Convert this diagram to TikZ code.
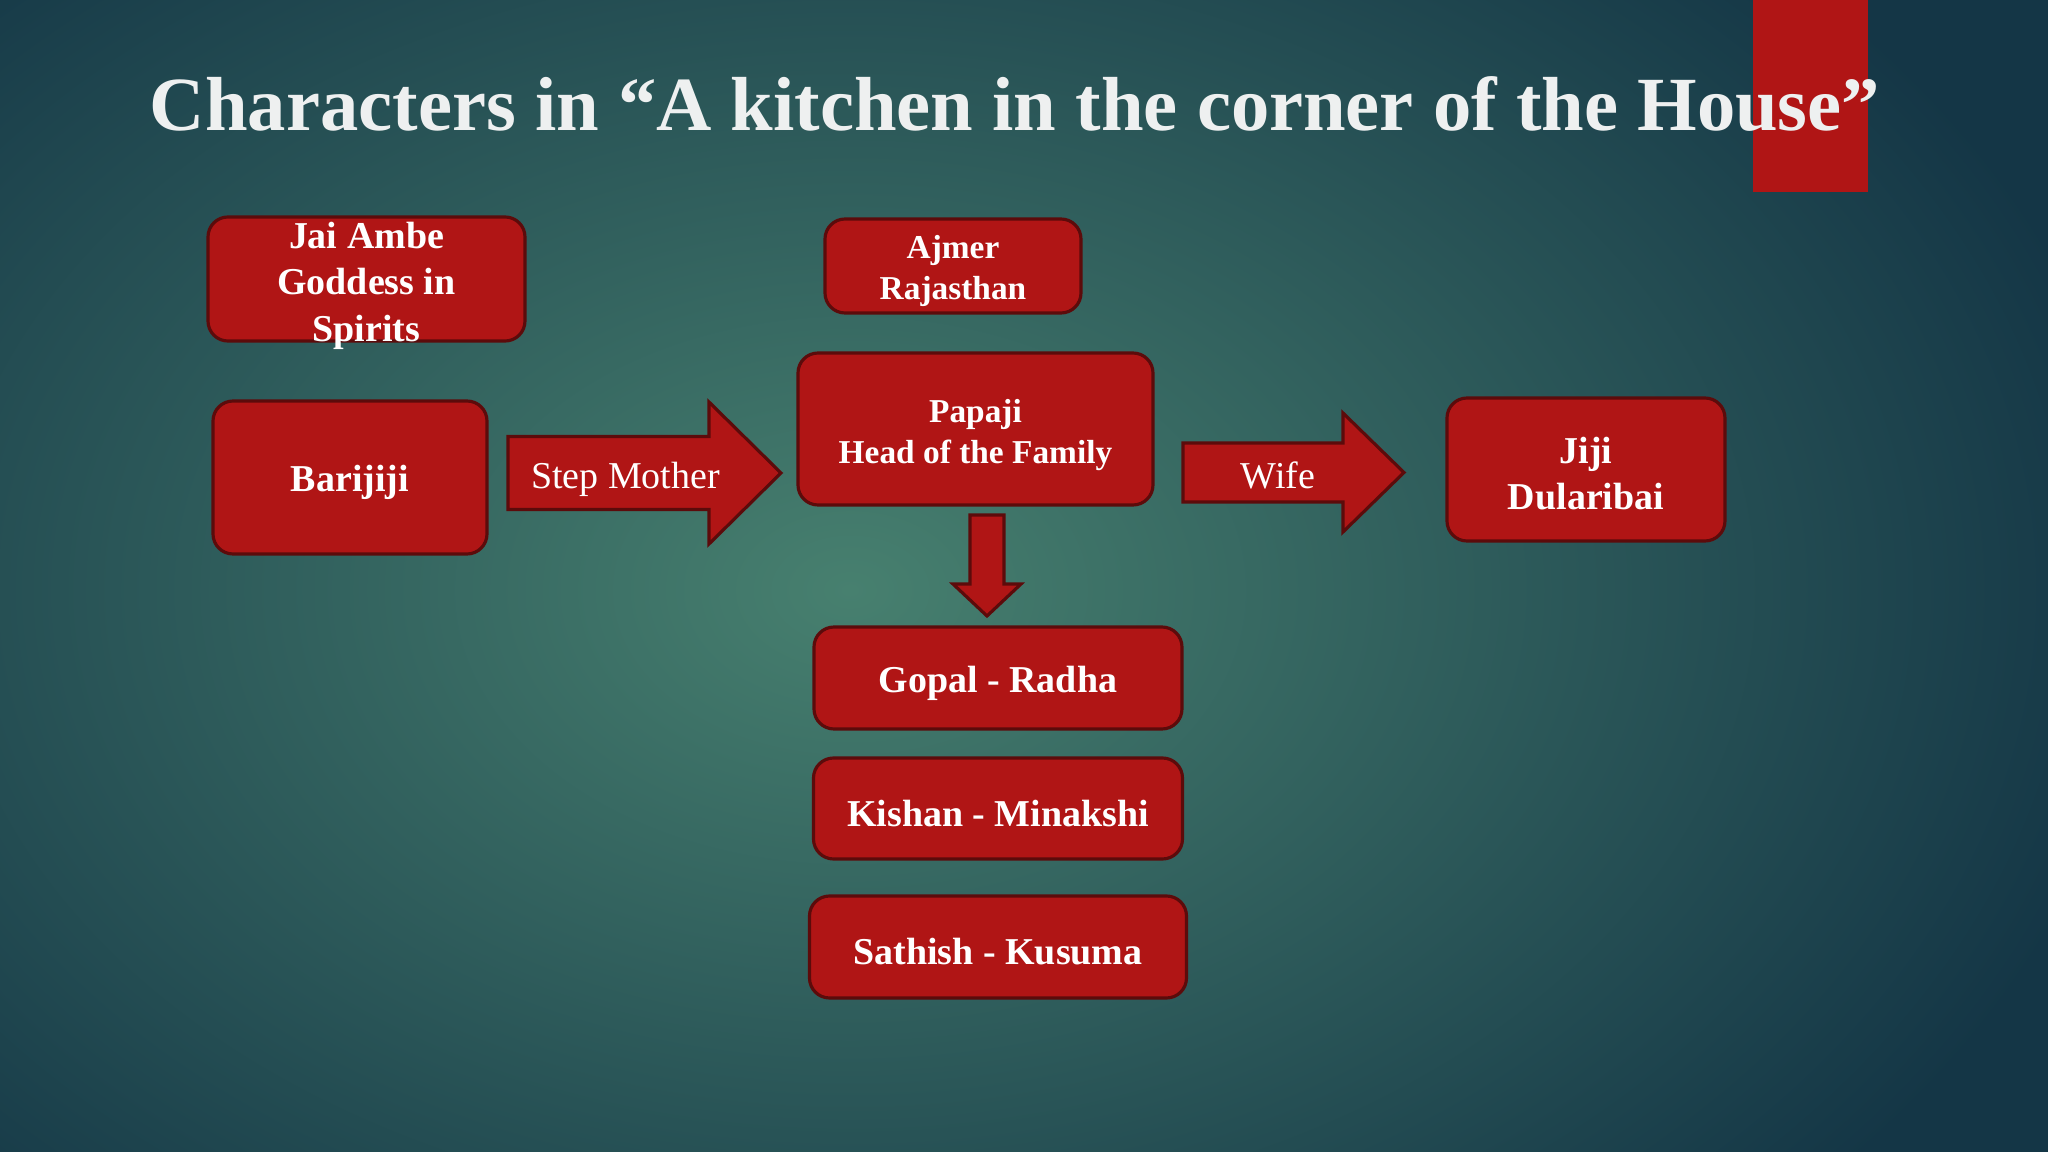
\documentclass[tikz,border=0pt]{standalone}
\usepackage{fontspec}
\setmainfont{Liberation Serif}
\usetikzlibrary{positioning,calc}

\definecolor{boxred}{HTML}{B01515}
\definecolor{boxedge}{HTML}{5C0B0B}
\definecolor{bgdark}{HTML}{143646}
\definecolor{bglight}{HTML}{47806F}
\definecolor{titlewhite}{HTML}{EEF0F0}

\newcommand{\tstrut}[1][0.96]{\rule{0pt}{#1em}}

\tikzstyle{block} = [rectangle, draw=boxedge, fill=boxred, line width=0.9pt,
    rounded corners=0.2cm, text=white, align=center, inner sep=0pt, outer sep=0pt,
    font=\bfseries\fontsize{10.8}{13.2}\selectfont,
    execute at begin node={\tstrut}]
\tikzstyle{smalltext} = [font=\bfseries\fontsize{9.5}{11.7}\selectfont]
\tikzstyle{arrowbox} = [draw=boxedge, fill=boxred, line width=0.9pt, line join=miter]
\tikzstyle{arrowtext} = [text=white, font=\fontsize{10.8}{13}\selectfont, yshift=-0.06cm]

% #1 tail, #2 tip, #3 half shaft, #4 half head, #5 head length
\newcommand{\blockarrow}[5]{%
    \coordinate (hb) at ($(#2)!#5!(#1)$);
    \path [arrowbox] ($(#1)!#3!90:(#2)$) -- ($(hb)!#3!-90:(#1)$) -- ($(hb)!#4!-90:(#1)$)
        -- (#2) -- ($(hb)!#4!90:(#1)$) -- ($(hb)!#3!90:(#1)$) -- ($(#1)!#3!-90:(#2)$) -- cycle;
}

\begin{document}
\begin{tikzpicture}
    \useasboundingbox (0,0) rectangle (20.48,-11.52);
    \fill [bgdark] (0,0) rectangle (20.48,-11.52);
    \begin{scope}
        \clip (0,0) rectangle (20.48,-11.52);
        \shade [inner color=bglight, outer color=bgdark] (8.5,-5.9) ellipse (13 and 9);
    \end{scope}
    \fill [boxred] (17.53,0) rectangle (18.68,-1.92);

    \node [anchor=base, text=titlewhite, font=\bfseries\fontsize{21.8}{26}\selectfont] (title) at (10.15,-1.31)
        {Characters in “A kitchen in the corner of the House”};

    \node [block, minimum width=3.17cm, minimum height=1.24cm, text height=35.3pt, text depth=-0.6pt] (jai) at (3.665,-2.79) {Jai Ambe\\Goddess in\\Spirits};
    \node [block, smalltext, minimum width=2.56cm, minimum height=0.94cm] (ajmer) at (9.53,-2.66) {\tstrut[1.0]Ajmer\\Rajasthan};
    \node [block, smalltext, minimum width=3.55cm, minimum height=1.52cm] (papa) at (9.755,-4.29) {\tstrut[1.07]Papaji\\Head of the Family};
    \node [block, minimum width=2.74cm, minimum height=1.53cm] (bari) at (3.50,-4.775) {Barijiji};
    \node [block, minimum width=2.78cm, minimum height=1.43cm] (jiji) at (15.86,-4.695) {\tstrut[0.9]Jiji\\Dularibai};
    \node [block, minimum width=3.68cm, minimum height=1.02cm] (gopal) at (9.98,-6.78) {Gopal - Radha};
    \node [block, minimum width=3.69cm, minimum height=1.01cm, below=0.29cm of gopal] (kishan) {Kishan - Minakshi};
    \node [block, minimum width=3.77cm, minimum height=1.02cm, below=0.37cm of kishan] (sathish) {Sathish - Kusuma};

    \coordinate (smtail) at ($(bari.east)+(0.21,0.045)$);
    \coordinate (smtip) at ($(smtail -| papa.west)+(-0.17,0)$);
    \blockarrow{smtail}{smtip}{0.365cm}{0.71cm}{0.72cm}
    \node [arrowtext] (smlabel) at ($(smtail)!0.43!(smtip)$) {Step Mother};

    \coordinate (wftail) at ($(jiji.west -| papa.east)+(0.30,-0.03)$);
    \coordinate (wftip) at ($(wftail -| jiji.west)+(-0.43,0)$);
    \blockarrow{wftail}{wftip}{0.295cm}{0.595cm}{0.61cm}
    \node [arrowtext, yshift=0.03cm] (wflabel) at ($(wftail)!0.43!(wftip)$) {Wife};

    \coordinate (dntail) at ($(papa.south)+(0.115,-0.10)$);
    \coordinate (dntip) at ($(dntail |- gopal.north)+(0,0.11)$);
    \blockarrow{dntail}{dntip}{0.17cm}{0.34cm}{0.32cm}
\end{tikzpicture}
\end{document}
